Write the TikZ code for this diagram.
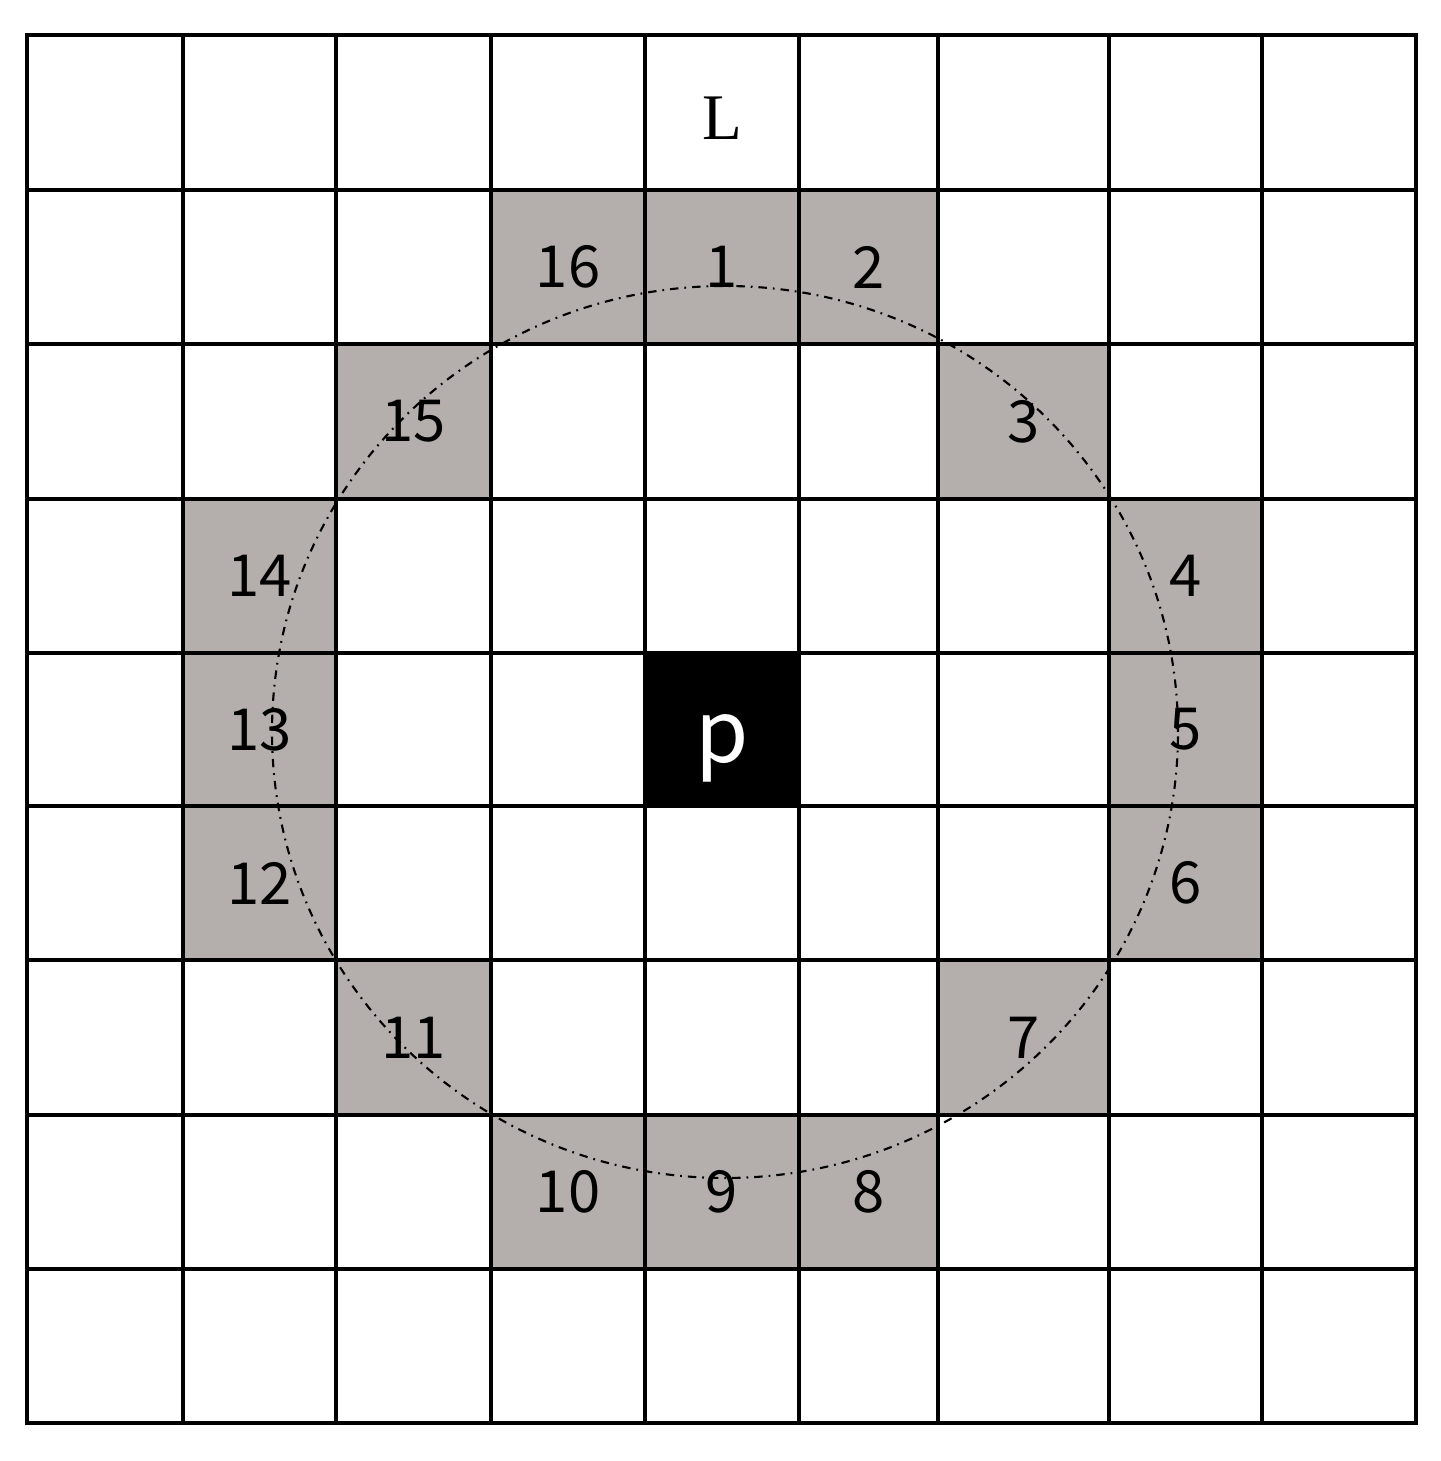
\documentclass[tikz,border=0pt]{standalone}
\usepackage{fontspec}
\setmainfont{Liberation Serif}
\newfontfamily\cifras{Noto Sans CJK SC}
\definecolor{gris}{RGB}{180,175,173}

\tikzstyle{celda}= [rectangle,inner sep=0pt,minimum width=1.545cm,minimum height=1.545cm,font=\cifras\fontsize{16.5}{18}\selectfont]
\tikzstyle{gris}= [celda,fill=gris]
\tikzstyle{negro}= [celda,fill=black]
\tikzstyle{rejilla}= [black,line width=0.9pt,line cap=rect]
\tikzstyle{circulo}= [black,line width=0.6pt,dash pattern=on 2.4pt off 1.7pt on 0.5pt off 1.7pt]

\begin{document}
\begin{tikzpicture}
		\useasboundingbox (0,0) rectangle (14.40,14.61);

		% fila superior
		\node (n16) at (5.68,11.94) [gris] {16};
		\node (n1) at (7.22,11.94) [gris] {1};
		\node (n2) at (8.685,11.94) [gris,minimum width=1.39cm] {2};

		\node (n15) at (4.135,10.395) [gris] {15};
		\node (n3) at (10.235,10.395) [gris,minimum width=1.71cm] {3};

		\node (n14) at (2.595,8.85) [gris] {14};
		\node (n4) at (11.855,8.85) [gris] {4};
		\node (n13) at (2.595,7.315) [gris] {13};
		\node (n5) at (11.855,7.315) [gris] {5};
		\node (n12) at (2.595,5.78) [gris] {12};
		\node (n6) at (11.855,5.78) [gris] {6};

		\node (n11) at (4.135,4.235) [gris] {11};
		\node (n7) at (10.235,4.235) [gris,minimum width=1.71cm] {7};

		% fila inferior
		\node (n10) at (5.68,2.69) [gris] {10};
		\node (n9) at (7.22,2.69) [gris] {9};
		\node (n8) at (8.685,2.69) [gris,minimum width=1.39cm] {8};

		% pixel central
		\node (p) at (7.22,7.315) [negro] {};
		\node (ptxt) at (7.22,6.98) [anchor=base,white,font=\cifras\fontsize{24.5}{26}\selectfont] {p};

		\node (l) at (7.22,13.43) [font=\fontsize{18.5}{20}\selectfont] {L};

		% rejilla
		\foreach \x in {0.27,1.83,3.36,4.91,6.45,7.99,9.38,11.09,12.62,14.16}
			\draw[rejilla] (\x,0.38) -- (\x,14.26);
		\foreach \y in {0.38,1.92,3.46,5.01,6.55,8.08,9.62,11.17,12.71,14.26}
			\draw[rejilla] (0.27,\y) -- (14.16,\y);

		\coordinate (centro) at (7.25,7.29);
		\draw[circulo] (centro) ellipse (4.53 and 4.46);

\end{tikzpicture}
\end{document}
